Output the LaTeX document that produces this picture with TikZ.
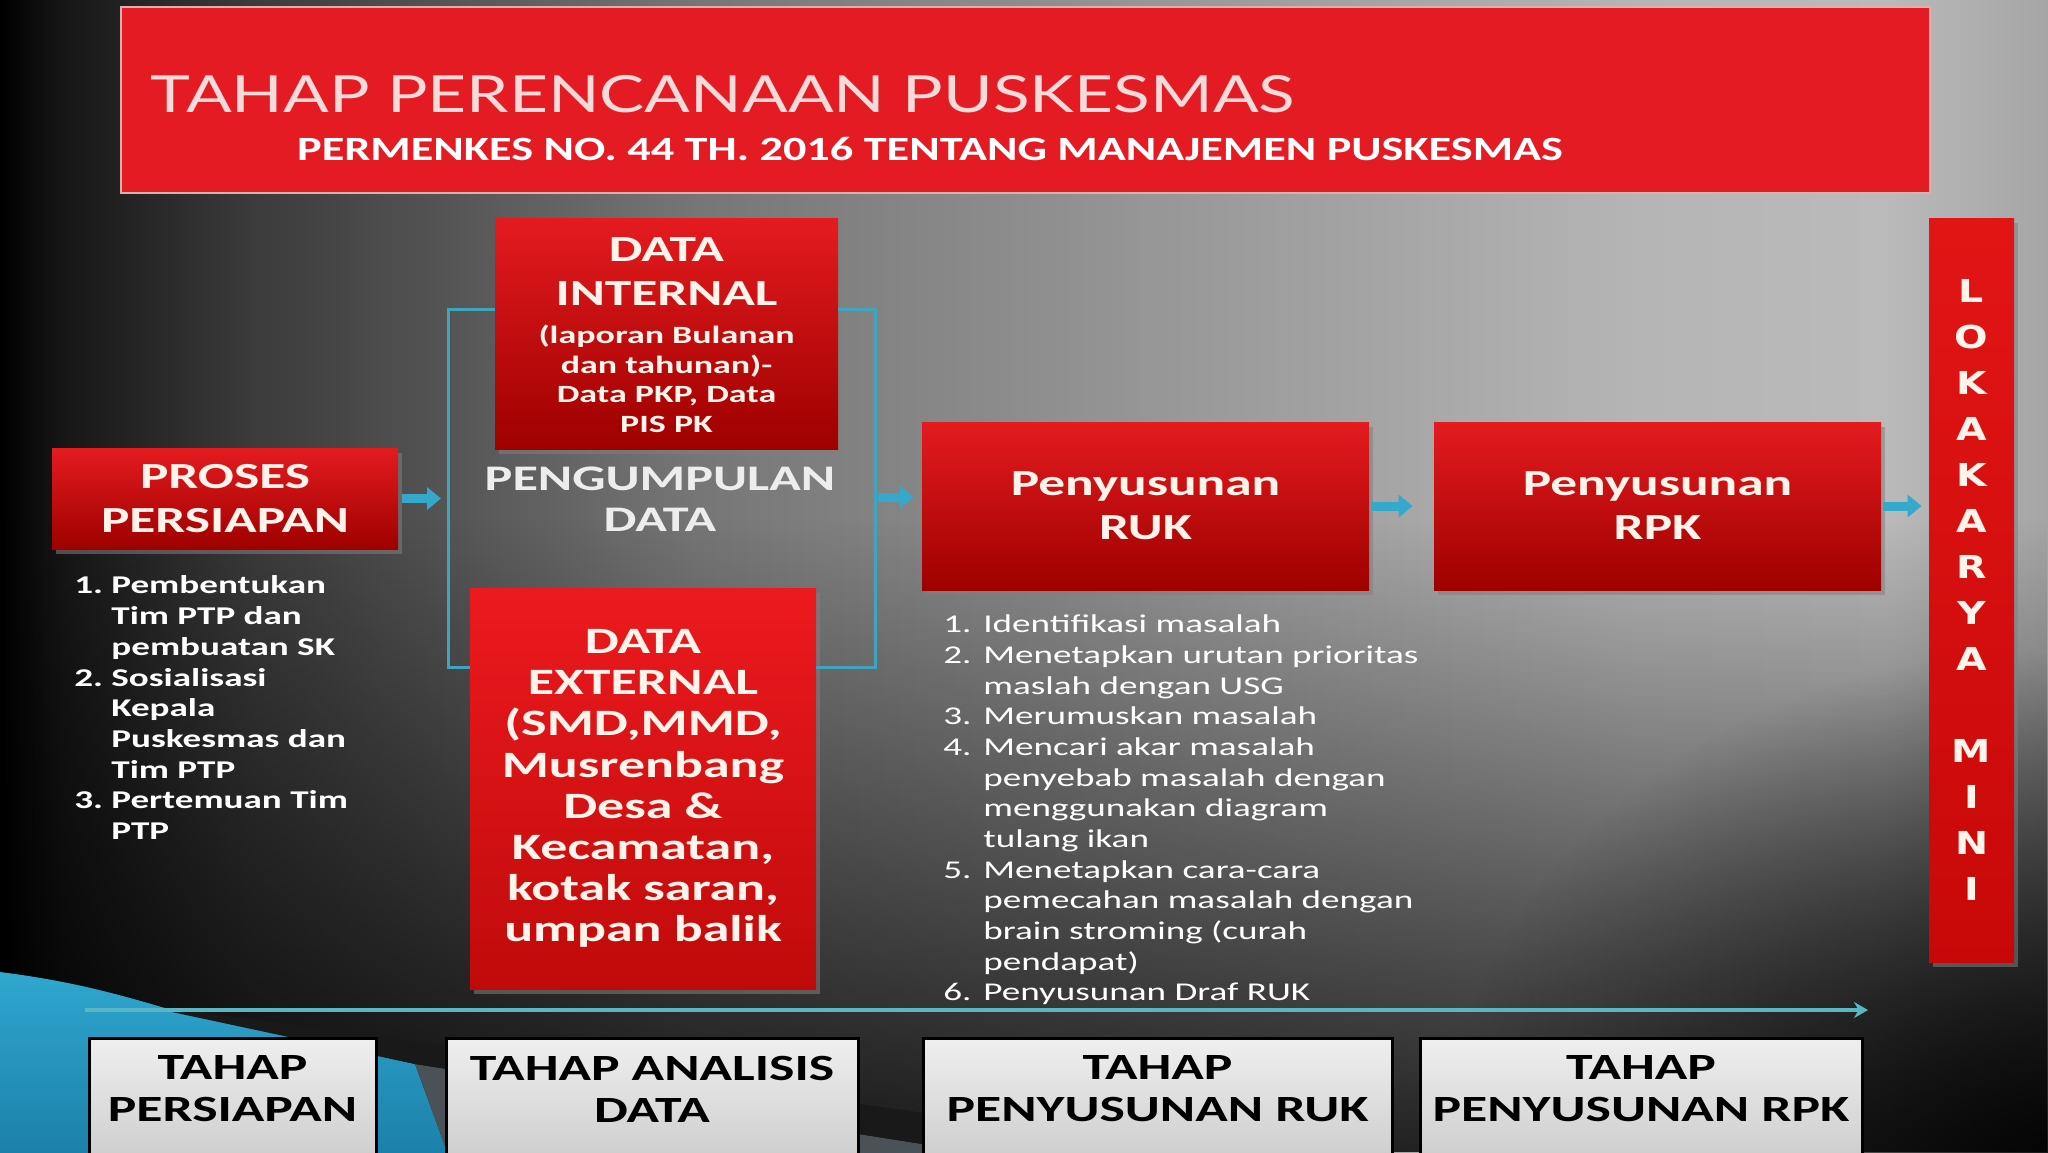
\documentclass[tikz,border=0pt]{standalone}
\usepackage{fontspec}
\usetikzlibrary{arrows.meta,shadows,fadings}
\setmainfont{Carlito}
\newfontfamily\cf[FakeStretch=1.45]{Carlito}
\newfontfamily\cfsub[FakeStretch=1.36]{Carlito}
\newfontfamily\titlef[FakeStretch=1.32]{Lato}
\newfontfamily\lokaf[FakeStretch=1.25]{DejaVu Sans}

\definecolor{bg0}{HTML}{000000}
\definecolor{bg1}{HTML}{161616}
\definecolor{bg2}{HTML}{3A3A3A}
\definecolor{bg3}{HTML}{767676}
\definecolor{bg4}{HTML}{999999}
\definecolor{bg5}{HTML}{B5B5B5}
\definecolor{bg6}{HTML}{BABABA}
\definecolor{bg7}{HTML}{A5A5A5}
\pgfdeclarehorizontalshading{bgh}{100bp}{color(0bp)=(bg0); color(25bp)=(bg0); color(26.5bp)=(bg1); color(31bp)=(bg2); color(42bp)=(bg3); color(54bp)=(bg4); color(65bp)=(bg5); color(71bp)=(bg6); color(75bp)=(bg7); color(100bp)=(bg7)}
\definecolor{fopq}{gray}{0.8}
\definecolor{fopr}{gray}{0.85}
\definecolor{fclr}{gray}{0}
\pgfdeclareverticalshading{fadeupsh}{100bp}{color(0bp)=(fopq); color(25bp)=(fopq); color(75bp)=(fclr); color(100bp)=(fclr)}
\pgfdeclarefading{fadeup}{\pgfuseshading{fadeupsh}}
\pgfdeclareradialshading{rfadesh}{\pgfpointorigin}{color(0bp)=(fopr); color(25bp)=(fclr); color(50bp)=(fclr)}
\pgfdeclarefading{rfade}{\pgfuseshading{rfadesh}}

\definecolor{boxtop}{HTML}{E41B1F}
\definecolor{boxbot}{HTML}{9E0000}
\definecolor{extop}{HTML}{EC1A1F}
\definecolor{exbot}{HTML}{C00A0A}
\definecolor{lktop}{HTML}{E21515}
\definecolor{lkbot}{HTML}{C80808}
\definecolor{txtw}{HTML}{FFF3EA}
\definecolor{pgtxt}{HTML}{EDEDED}
\definecolor{titlec}{HTML}{F5DADA}
\definecolor{banner}{HTML}{E41B23}
\definecolor{bannerb}{HTML}{D9B0B0}
\definecolor{cyanA}{HTML}{35A9CC}
\definecolor{cyanB}{HTML}{3DA5BE}
\definecolor{cyanL}{HTML}{58B6C6}
\definecolor{bxtop}{HTML}{EFEFEF}
\definecolor{bxbot}{HTML}{C9C9C9}
\definecolor{cyT}{HTML}{2FA7CF}
\definecolor{cyB}{HTML}{1B7FA8}
\definecolor{wedge}{HTML}{4A5258}

\begin{document}
\begin{tikzpicture}[x=0.5pt,y=-0.5pt,
  redbox/.style={top color=boxtop, bottom color=boxbot, draw=none, inner sep=0pt, align=center, text=txtw,
     drop shadow={opacity=0.55, shadow xshift=2pt, shadow yshift=-2.5pt}},
  bigtxt/.style={font=\cf\bfseries\fontsize{18.4pt}{22pt}\selectfont},
  smalltxt/.style={font=\cf\bfseries\fontsize{12.4pt}{14.8pt}\selectfont},
  graybox/.style={draw=black, line width=1.5pt, top color=bxtop, bottom color=bxbot, inner sep=0pt},
  graytxt/.style={font=\cf\bfseries\fontsize{18.5pt}{21pt}\selectfont, text=black, align=center, inner sep=0pt},
  brk/.style={draw=cyanB, line width=1.5pt},
  carrow/.style={draw=cyanA, line width=4.5pt, -{Triangle[length=7pt,width=11pt]}},
  tl/.style={draw=cyanL, line width=1.8pt, -{Stealth[length=7pt,width=8pt]}},
  listtxt/.style={anchor=north west, inner sep=0pt, text=white, align=left}
]
\useasboundingbox (0,0) rectangle (2048,1152);
\clip (0,0) rectangle (2048,1152);
% background
\shade[shading=bgh] (0,0) rectangle (2048,1152);
\fill[black, path fading=fadeup] (0,520) rectangle (2048,1152);
\fill[black, path fading=rfade] (1448,652) rectangle (2648,1652);
% bottom-left decoration
\shade[top color=cyT, bottom color=cyB] (0,972) .. controls (80,982) and (130,998) .. (172,1010) -- (415,1064) -- (450,1160) -- (0,1160) -- cycle;
\fill[wedge] (415,1064) -- (960,1150) -- (960,1160) -- (450,1160) -- cycle;
\fill[black!90] (172,1008) -- (960,1118) -- (960,1150) -- (415,1064) -- (172,1012) -- cycle;

% timeline
\coordinate (tlS) at (85,1010);
\coordinate (tlE) at (1868,1010);
\draw[tl] (tlS) -- (tlE);

% banner
\node[draw=bannerb, line width=1pt, fill=banner, minimum width=904.5pt, minimum height=93pt, inner sep=0pt] (banner) at (1025.5,100) {};
\node[anchor=base, inner sep=0pt, font=\titlef\fontsize{25.6pt}{30pt}\selectfont, text=titlec] (title) at (723,112) {TAHAP PERENCANAAN PUSKESMAS};
\node[anchor=base, inner sep=0pt, font=\cfsub\bfseries\fontsize{17pt}{20pt}\selectfont, text=white] (subtitle) at (930,160) {PERMENKES NO. 44 TH. 2016 TENTANG MANAJEMEN PUSKESMAS};

% bracket
\coordinate (brTL) at (448,309);
\coordinate (brBL) at (448,667);
\coordinate (brTR) at (875,309);
\coordinate (brBR) at (875,667);
\coordinate (aR) at (875,497);

% boxes
\node[redbox, minimum width=173pt, minimum height=50.5pt, bigtxt] (proses) at (225,498.5) {PROSES\\PERSIAPAN};
\node[redbox, minimum width=171.5pt, minimum height=115.5pt] (dint) at (666.5,333.5) {};
\node[redbox, minimum width=173pt, minimum height=200.5pt, top color=extop, bottom color=exbot, font=\cf\bfseries\fontsize{18.6pt}{20.6pt}\selectfont] (dext) at (643,788.5) {DATA\\EXTERNAL\\(SMD,MMD,\\Musrenbang\\Desa \&\\Kecamatan,\\kotak saran,\\umpan balik};
\draw[brk] (dint.west |- brTL) -- (brTL) -- (brBL) -- (dext.west |- brBL);
\draw[brk] (dint.east |- brTR) -- (brTR) -- (brBR) -- (dext.east |- brBR);
\node[bigtxt, text=txtw, align=center, inner sep=0pt] (dintT) at (666.5,272) {DATA\\INTERNAL};
\node[smalltxt, text=txtw, align=center, inner sep=0pt] (dintS) at (666.5,379) {(laporan Bulanan\\dan tahunan)-\\Data PKP, Data\\PIS PK};
\node[font=\cf\bfseries\fontsize{18pt}{20.5pt}\selectfont, text=pgtxt, align=center, inner sep=0pt] (pengum) at (660,499) {PENGUMPULAN\\DATA};
\node[redbox, minimum width=223.5pt, minimum height=84pt, bigtxt] (ruk) at (1145.5,506) {Penyusunan\\RUK};
\node[redbox, minimum width=223.5pt, minimum height=84pt, bigtxt] (rpk) at (1657.5,506) {Penyusunan\\RPK};
\node[redbox, minimum width=42.5pt, minimum height=372pt, top color=lktop, bottom color=lkbot, font=\lokaf\bfseries\fontsize{15.8pt}{23pt}\selectfont] (loka) at (1971.5,590) {L\\O\\K\\A\\K\\A\\R\\Y\\A\\[23pt]M\\I\\N\\I};

% arrows
\draw[carrow, shorten <=2pt, shorten >=3.5pt] (proses.east) -- (proses.east -| brTL);
\draw[carrow, shorten <=1.5pt, shorten >=4pt] (aR) -- (ruk.west |- aR);
\draw[carrow, shorten <=1pt, shorten >=10.5pt] (ruk.east) -- (rpk.west);
\draw[carrow, shorten <=1pt, shorten >=3.5pt] (rpk.east) -- (rpk.east -| loka.west);

% lists
\node[listtxt, font=\cf\bfseries\fontsize{12.8pt}{15.35pt}\selectfont] (plist) at (74,572) {\begin{tabular}{@{}p{18.5pt}@{}l@{}}1. & Pembentukan\\ & Tim PTP dan\\ & pembuatan SK\\2. & Sosialisasi\\ & Kepala\\ & Puskesmas dan\\ & Tim PTP\\3. & Pertemuan Tim\\ & PTP\end{tabular}};
\node[listtxt, font=\cf\fontsize{12.8pt}{15.33pt}\selectfont] (rlist) at (943,611) {\begin{tabular}{@{}p{20pt}@{}l@{}}1. & Identifikasi masalah\\2. & Menetapkan urutan prioritas\\ & maslah dengan USG\\3. & Merumuskan masalah\\4. & Mencari akar masalah\\ & penyebab masalah dengan\\ & menggunakan diagram\\ & tulang ikan\\5. & Menetapkan cara-cara\\ & pemecahan masalah dengan\\ & brain stroming (curah\\ & pendapat)\\6. & Penyusunan Draf RUK\end{tabular}};

% bottom boxes
\node[graybox, minimum width=143.5pt, minimum height=68.5pt] (b1) at (232.5,1106.5) {};
\node[graybox, minimum width=206pt, minimum height=68.5pt] (b2) at (652,1106.5) {};
\node[graybox, minimum width=234.5pt, minimum height=68.5pt] (b3) at (1157.5,1106.5) {};
\node[graybox, minimum width=221pt, minimum height=68.5pt] (b4) at (1641,1106.5) {};
\node[graytxt] (b1t) at (232.5,1089) {TAHAP\\PERSIAPAN};
\node[graytxt] (b2t) at (652,1089) {TAHAP ANALISIS\\DATA};
\node[graytxt] (b3t) at (1157.5,1089) {TAHAP\\PENYUSUNAN RUK};
\node[graytxt] (b4t) at (1641,1089) {TAHAP\\PENYUSUNAN RPK};
\end{tikzpicture}
\end{document}
